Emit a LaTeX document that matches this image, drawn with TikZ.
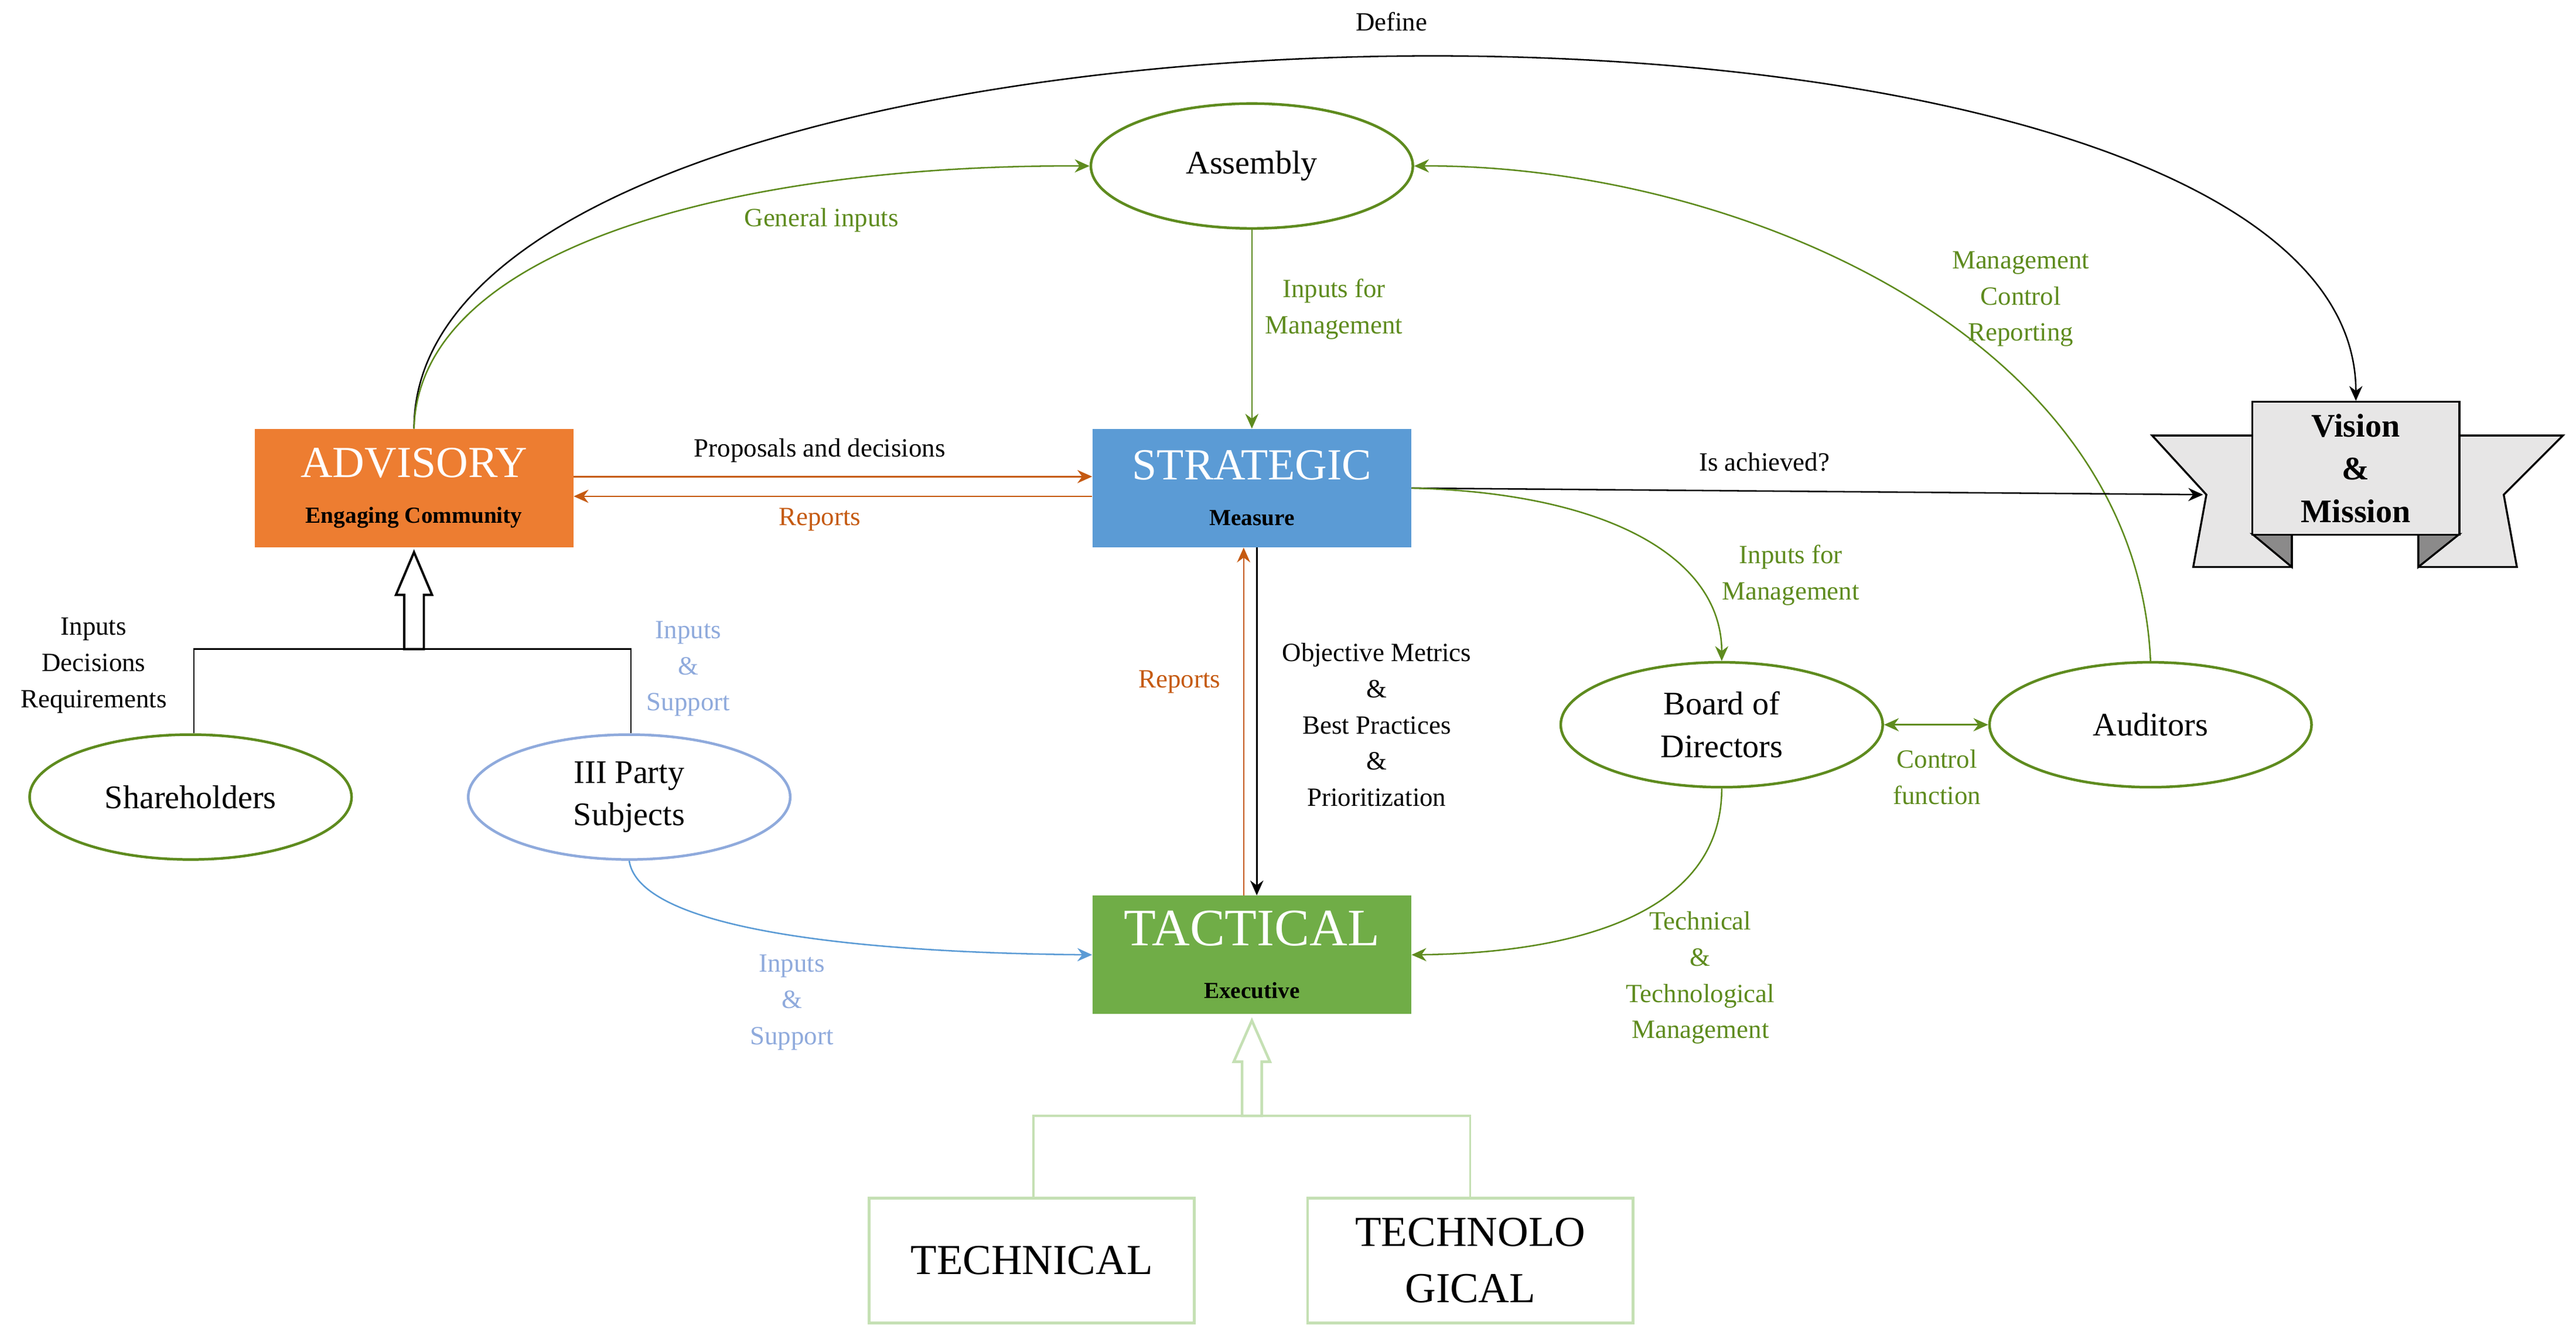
\documentclass[tikz,border=0pt]{standalone}
\usepackage{fontspec}
\setmainfont{Liberation Serif}
\newfontfamily\ser{Liberation Serif}
\usetikzlibrary{arrows.meta,shapes.geometric}
\definecolor{gr}{HTML}{5E8B1E}
\definecolor{orng}{HTML}{ED7D31}
\definecolor{blu}{HTML}{5B9BD5}
\definecolor{lblu}{HTML}{8FAADC}
\definecolor{tgr}{HTML}{70AD47}
\definecolor{lgr}{HTML}{C5E0B4}
\definecolor{dor}{HTML}{C55A11}
\definecolor{gry}{HTML}{E7E6E6}
\begin{document}
\begin{tikzpicture}[x=1pt,y=-1pt,
 ell/.style={draw=gr,line width=1.6pt,ellipse,minimum width=196pt,minimum height=76pt,align=center,font=\ser\fontsize{20}{26}\selectfont},
 box/.style={minimum width=194pt,minimum height=72pt,align=center,inner sep=0pt,font=\ser\fontsize{27}{28}\selectfont},
 lab/.style={font=\ser\fontsize{16}{22}\selectfont,align=center},
 arr/.style={-{Stealth[length=9pt,width=8pt]},line width=0.9pt},
 tbox/.style={draw=lgr,line width=1.6pt,minimum width=198pt,minimum height=76pt,align=center,font=\ser\fontsize{26}{34}\selectfont}]
\useasboundingbox (0,0) rectangle (1568,812);
% nodes
\node[ell] (asm) at (762,101) {Assembly};
\node[ell] (bod) at (1048,441) {Board of\\Directors};
\node[ell] (aud) at (1309,441) {Auditors};
\node[ell] (sh) at (116,485) {Shareholders};
\node[ell,draw=lblu] (tp) at (383,485) {III Party\\Subjects};
\node[box,fill=orng] (adv) at (252,297) {\textcolor{white}{ADVISORY}\\{\fontsize{14}{16}\selectfont\bfseries Engaging Community}};
\node[box,fill=blu] (str) at (762,297) {\textcolor{white}{STRATEGIC}\\{\fontsize{14}{16}\selectfont\bfseries Measure}};
\node[box,fill=tgr,font=\ser\fontsize{32}{32}\selectfont] (tac) at (762,581) {\textcolor{white}{TACTICAL}\\{\fontsize{14}{16}\selectfont\bfseries Executive}};
\node[tbox] (tec) at (628,767) {TECHNICAL};
\node[tbox] (tgl) at (895,767) {TECHNOLO\\GICAL};
% banner
\filldraw[fill=gry,draw=black,line width=1.2pt] (1310,265)--(1395,265)--(1395,345)--(1335,345)--(1343,301)--cycle;
\filldraw[fill=gry,draw=black,line width=1.2pt] (1560,265)--(1472,265)--(1472,345)--(1532,345)--(1524,301)--cycle;
\filldraw[fill=gry!60!black,draw=black,line width=1.2pt] (1371,325)--(1395,345)--(1395,325)--cycle;
\filldraw[fill=gry!60!black,draw=black,line width=1.2pt] (1497,325)--(1472,345)--(1472,325)--cycle;
\node[draw=black,line width=1.2pt,fill=gry,minimum width=126pt,minimum height=81pt,align=center,font=\ser\fontsize{20}{26}\selectfont\bfseries] (vis) at (1434,285) {Vision\\\&\\Mission};
\coordinate (notch) at (1341,301);
% connectors
\draw[arr] (adv.north) .. controls (252,-30) and (1434,-45) .. (vis.north);
\node[lab] (ldef) at (847,13) {Define};
\draw[arr,gr] (adv.north) .. controls (255,150) and (450,100) .. (asm.west);
\node[lab,text=gr] (lgi) at (500,134) {General inputs};
\draw[arr,gr] (asm.south) -- (str.north);
\node[lab,text=gr] (lim) at (812,188) {Inputs for\\Management};
\draw[arr,gr] (aud.north) .. controls (1300,200) and (1050,100) .. (asm.east);
\node[lab,text=gr] (lmc) at (1230,182) {Management\\Control\\Reporting};
\draw[arr,dor] (adv.east|-0,290) -- (str.west|-0,290);
\node[lab] (lpd) at (499,274) {Proposals and decisions};
\draw[arr,dor] (str.west|-0,302) -- (adv.east|-0,302);
\node[lab,text=dor] (lrp) at (499,316) {Reports};
\draw[arr] (str.east) -- (notch);
\node[lab] (lia) at (1074,281) {Is achieved?};
\draw[arr,gr] (str.east) .. controls (980,300) and (1048,340) .. (bod.north);
\node[lab,text=gr] (lim2) at (1090,350) {Inputs for\\Management};
\draw[{Stealth[length=9pt,width=8pt]}-{Stealth[length=9pt,width=8pt]},line width=0.9pt,gr] (bod.east) -- (aud.west);
\node[lab,text=gr] (lcf) at (1179,473) {Control\\function};
\draw[arr,gr] (bod.south) .. controls (1048,560) and (950,580) .. (tac.east);
\node[lab,text=gr] (ltt) at (1035,595) {Technical\\\&\\Technological\\Management};
\draw[arr] (str.south-|765,0) -- (tac.north-|765,0);
\node[lab] (lom) at (838,441) {Objective Metrics\\\&\\Best Practices\\\&\\Prioritization};
\draw[arr,dor] (tac.north-|757,0) -- (str.south-|757,0);
\node[lab,text=dor] (lrp2) at (718,415) {Reports};
\draw[arr,blu] (tp.south) .. controls (390,570) and (550,580) .. (tac.west);
\node[lab,text=lblu] (lis) at (482,610) {Inputs\\\&\\Support};
% shareholder tree
\draw[line width=0.9pt] (sh.north-|118,0) -- (118,395) -- (384,395) -- (tp.north-|384,0);
\filldraw[fill=white,draw=black,line width=1.4pt] (246,395)--(246,362)--(241,362)--(252,336)--(263,362)--(258,362)--(258,395)--cycle;
\node[lab] (lid) at (57,405) {Inputs\\Decisions\\Requirements};
\node[lab,text=lblu] (lis2) at (419,407) {Inputs\\\&\\Support};
% technical tree
\draw[line width=1.2pt,lgr] (tec.north-|629,0) -- (629,679) -- (895,679) -- (tgl.north);
\filldraw[fill=white,draw=lgr,line width=1.6pt] (756,679)--(756,646)--(751,646)--(762,621)--(773,646)--(768,646)--(768,679)--cycle;
\end{tikzpicture}
\end{document}
